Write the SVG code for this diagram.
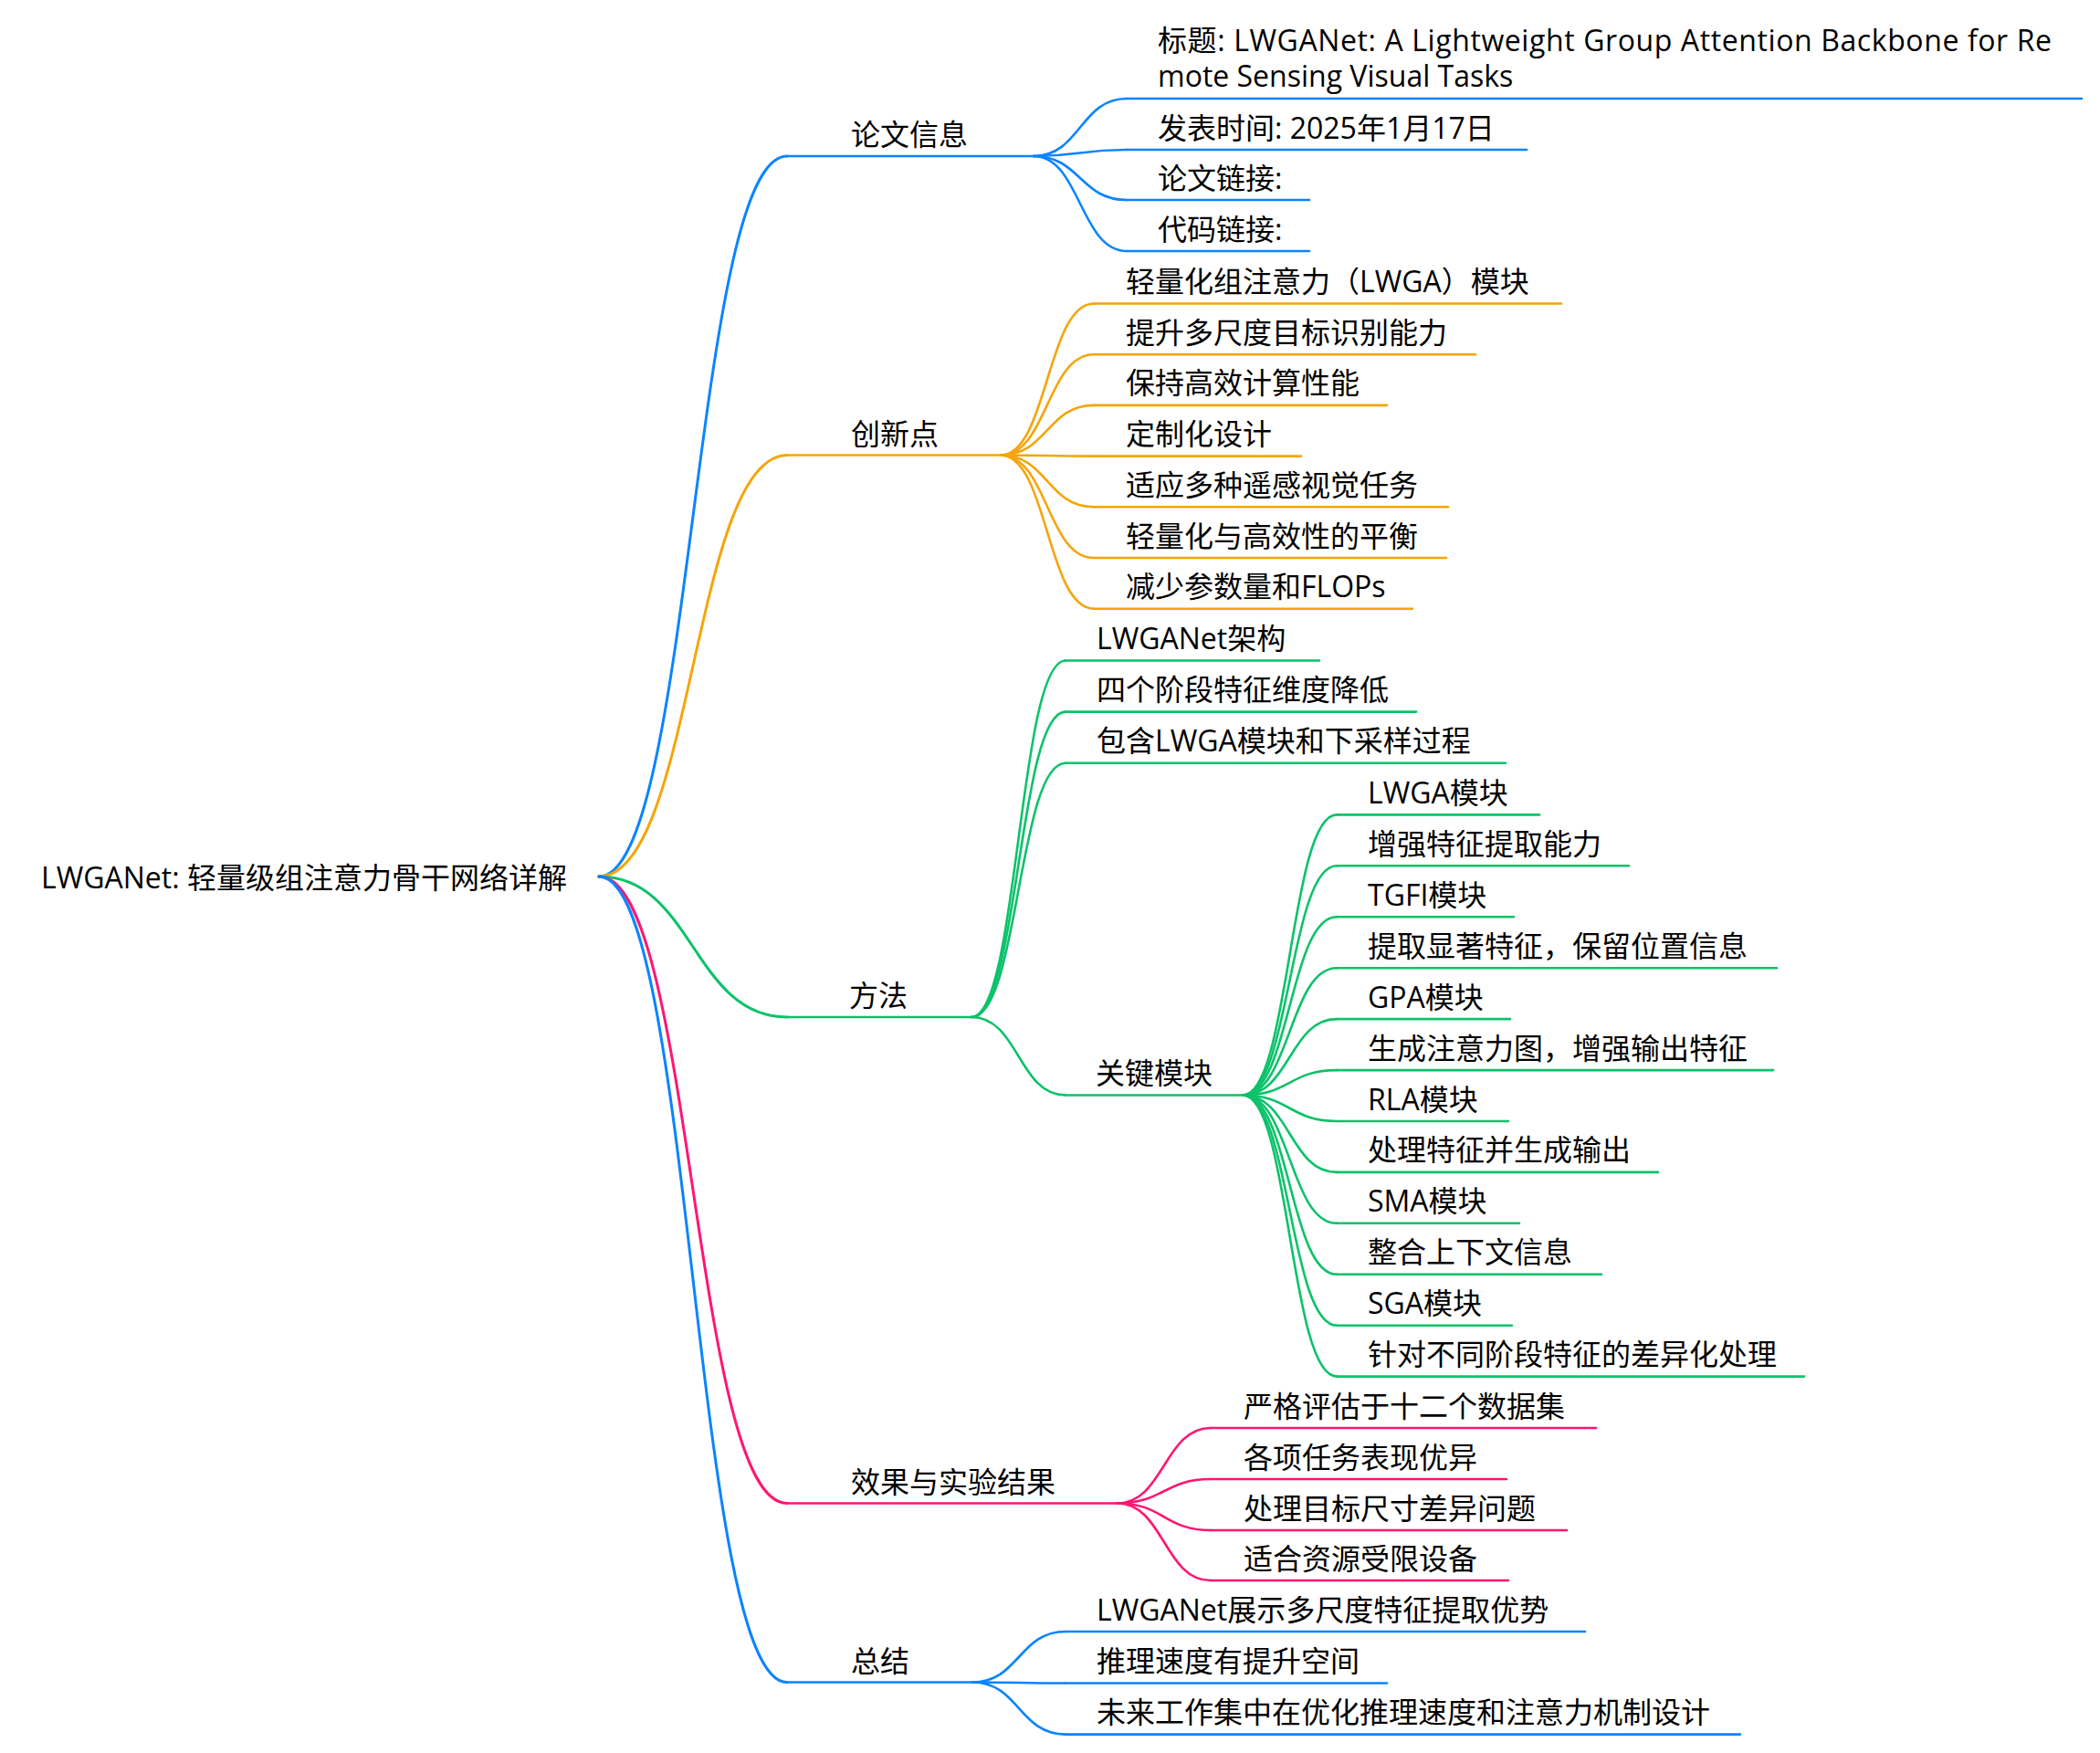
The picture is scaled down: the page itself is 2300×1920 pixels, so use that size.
<svg xmlns="http://www.w3.org/2000/svg" width="2300" height="1920" viewBox="0 0 2300 1920">
<style>
text{font-family:"Open Sans","Noto Sans CJK SC",sans-serif;font-size:32px;fill:#000}
.l{fill:none;stroke-width:2.6;stroke-linecap:round}
.r{stroke-width:3}
.b{stroke:#0a84ff}
.o{stroke:#f5a50a}
.g{stroke:#0cc26a}
.p{stroke:#ff1672}
</style>
<rect width="2300" height="1920" fill="#fff"/>
<g id="connectors">
<path class="l r b" d="M656,960 C759,960 759,171 862,171"/>
<path class="l r o" d="M656,960 C759,960 759,498.5 862,498.5"/>
<path class="l r g" d="M656,960 C759,960 759,1114 862,1114"/>
<path class="l r p" d="M656,960 C759,960 759,1646.5 862,1646.5"/>
<path class="l r b" d="M656,960 C759,960 759,1842.5 862,1842.5"/>
<path class="l b" d="M1132,171 C1183,171 1183,108 1234,108"/>
<path class="l b" d="M1132,171 C1183,171 1183,164 1234,164"/>
<path class="l b" d="M1132,171 C1183,171 1183,219 1234,219"/>
<path class="l b" d="M1132,171 C1183,171 1183,275 1234,275"/>
<path class="l o" d="M1096,498.5 C1147,498.5 1147,332.5 1198,332.5"/>
<path class="l o" d="M1096,498.5 C1147,498.5 1147,388.2 1198,388.2"/>
<path class="l o" d="M1096,498.5 C1147,498.5 1147,443.9 1198,443.9"/>
<path class="l o" d="M1096,498.5 C1147,498.5 1147,499.6 1198,499.6"/>
<path class="l o" d="M1096,498.5 C1147,498.5 1147,555.3 1198,555.3"/>
<path class="l o" d="M1096,498.5 C1147,498.5 1147,611 1198,611"/>
<path class="l o" d="M1096,498.5 C1147,498.5 1147,666.7 1198,666.7"/>
<path class="l g" d="M1064,1114 C1115.5,1114 1115.5,723.5 1167,723.5"/>
<path class="l g" d="M1064,1114 C1115.5,1114 1115.5,779.6 1167,779.6"/>
<path class="l g" d="M1064,1114 C1115.5,1114 1115.5,835.7 1167,835.7"/>
<path class="l g" d="M1064,1114 C1115.5,1114 1115.5,1199.5 1167,1199.5"/>
<path class="l g" d="M1361,1199.5 C1412.5,1199.5 1412.5,892.4 1464,892.4"/>
<path class="l g" d="M1361,1199.5 C1412.5,1199.5 1412.5,948.3 1464,948.3"/>
<path class="l g" d="M1361,1199.5 C1412.5,1199.5 1412.5,1004.3 1464,1004.3"/>
<path class="l g" d="M1361,1199.5 C1412.5,1199.5 1412.5,1060.2 1464,1060.2"/>
<path class="l g" d="M1361,1199.5 C1412.5,1199.5 1412.5,1116.1 1464,1116.1"/>
<path class="l g" d="M1361,1199.5 C1412.5,1199.5 1412.5,1172.1 1464,1172.1"/>
<path class="l g" d="M1361,1199.5 C1412.5,1199.5 1412.5,1228 1464,1228"/>
<path class="l g" d="M1361,1199.5 C1412.5,1199.5 1412.5,1283.9 1464,1283.9"/>
<path class="l g" d="M1361,1199.5 C1412.5,1199.5 1412.5,1339.8 1464,1339.8"/>
<path class="l g" d="M1361,1199.5 C1412.5,1199.5 1412.5,1395.8 1464,1395.8"/>
<path class="l g" d="M1361,1199.5 C1412.5,1199.5 1412.5,1451.7 1464,1451.7"/>
<path class="l g" d="M1361,1199.5 C1412.5,1199.5 1412.5,1507.6 1464,1507.6"/>
<path class="l p" d="M1223.5,1646.5 C1274.8,1646.5 1274.8,1564 1326,1564"/>
<path class="l p" d="M1223.5,1646.5 C1274.8,1646.5 1274.8,1620 1326,1620"/>
<path class="l p" d="M1223.5,1646.5 C1274.8,1646.5 1274.8,1676 1326,1676"/>
<path class="l p" d="M1223.5,1646.5 C1274.8,1646.5 1274.8,1731 1326,1731"/>
<path class="l b" d="M1065,1842.5 C1116,1842.5 1116,1787 1167,1787"/>
<path class="l b" d="M1065,1842.5 C1116,1842.5 1116,1843.5 1167,1843.5"/>
<path class="l b" d="M1065,1842.5 C1116,1842.5 1116,1899.6 1167,1899.6"/>
</g>
<g id="root"><text x="45" y="973">LWGANet: 轻量级组注意力骨干网络详解</text></g>
<g id="n-info"><path class="l b" d="M862,171H1132"/><text x="932" y="159">论文信息</text></g>
<g id="n-title"><path class="l b" d="M1234,108H2280"/><text x="1268" y="55.5" textLength="979" lengthAdjust="spacing">标题: LWGANet: A Lightweight Group Attention Backbone for Re</text><text x="1268" y="94.5">mote Sensing Visual Tasks</text></g>
<g id="n-date"><path class="l b" d="M1234,164H1672"/><text x="1268" y="151.5">发表时间: 2025年1月17日</text></g>
<g id="n-paper"><path class="l b" d="M1234,219H1434"/><text x="1268" y="206.5">论文链接:</text></g>
<g id="n-code"><path class="l b" d="M1234,275H1434"/><text x="1268" y="262.5">代码链接:</text></g>
<g id="n-innov"><path class="l o" d="M862,498.5H1096"/><text x="932" y="486.5">创新点</text></g>
<g id="n-i1"><path class="l o" d="M1198,332.5H1710"/><text x="1233" y="320">轻量化组注意力（LWGA）模块</text></g>
<g id="n-i2"><path class="l o" d="M1198,388.2H1616"/><text x="1233" y="375.7">提升多尺度目标识别能力</text></g>
<g id="n-i3"><path class="l o" d="M1198,443.9H1519"/><text x="1233" y="431.4">保持高效计算性能</text></g>
<g id="n-i4"><path class="l o" d="M1198,499.6H1425"/><text x="1233" y="487.1">定制化设计</text></g>
<g id="n-i5"><path class="l o" d="M1198,555.3H1586"/><text x="1233" y="542.8">适应多种遥感视觉任务</text></g>
<g id="n-i6"><path class="l o" d="M1198,611H1584"/><text x="1233" y="598.5">轻量化与高效性的平衡</text></g>
<g id="n-i7"><path class="l o" d="M1198,666.7H1547"/><text x="1233" y="654.2">减少参数量和FLOPs</text></g>
<g id="n-method"><path class="l g" d="M862,1114H1064"/><text x="930" y="1102">方法</text></g>
<g id="n-m1"><path class="l g" d="M1167,723.5H1445"/><text x="1201" y="711">LWGANet架构</text></g>
<g id="n-m2"><path class="l g" d="M1167,779.6H1551"/><text x="1201" y="767.1">四个阶段特征维度降低</text></g>
<g id="n-m3"><path class="l g" d="M1167,835.7H1649"/><text x="1201" y="823.2">包含LWGA模块和下采样过程</text></g>
<g id="n-key"><path class="l g" d="M1167,1199.5H1361"/><text x="1200" y="1187">关键模块</text></g>
<g id="n-k1"><path class="l g" d="M1464,892.4H1686"/><text x="1498" y="879.9">LWGA模块</text></g>
<g id="n-k2"><path class="l g" d="M1464,948.3H1784"/><text x="1498" y="935.8">增强特征提取能力</text></g>
<g id="n-k3"><path class="l g" d="M1464,1004.3H1658"/><text x="1498" y="991.8">TGFI模块</text></g>
<g id="n-k4"><path class="l g" d="M1464,1060.2H1946"/><text x="1498" y="1047.7">提取显著特征，保留位置信息</text></g>
<g id="n-k5"><path class="l g" d="M1464,1116.1H1654"/><text x="1498" y="1103.6">GPA模块</text></g>
<g id="n-k6"><path class="l g" d="M1464,1172.1H1942"/><text x="1498" y="1159.6">生成注意力图，增强输出特征</text></g>
<g id="n-k7"><path class="l g" d="M1464,1228H1652"/><text x="1498" y="1215.5">RLA模块</text></g>
<g id="n-k8"><path class="l g" d="M1464,1283.9H1816"/><text x="1498" y="1271.4">处理特征并生成输出</text></g>
<g id="n-k9"><path class="l g" d="M1464,1339.8H1664"/><text x="1498" y="1327.3">SMA模块</text></g>
<g id="n-k10"><path class="l g" d="M1464,1395.8H1754"/><text x="1498" y="1383.3">整合上下文信息</text></g>
<g id="n-k11"><path class="l g" d="M1464,1451.7H1656"/><text x="1498" y="1439.2">SGA模块</text></g>
<g id="n-k12"><path class="l g" d="M1464,1507.6H1976"/><text x="1498" y="1495.1">针对不同阶段特征的差异化处理</text></g>
<g id="n-result"><path class="l p" d="M862,1646.5H1223.5"/><text x="932" y="1634.5">效果与实验结果</text></g>
<g id="n-r1"><path class="l p" d="M1326,1564H1748"/><text x="1362" y="1551.5">严格评估于十二个数据集</text></g>
<g id="n-r2"><path class="l p" d="M1326,1620H1650"/><text x="1362" y="1607.5">各项任务表现优异</text></g>
<g id="n-r3"><path class="l p" d="M1326,1676H1716"/><text x="1362" y="1663.5">处理目标尺寸差异问题</text></g>
<g id="n-r4"><path class="l p" d="M1326,1731H1652"/><text x="1362" y="1718.5">适合资源受限设备</text></g>
<g id="n-sum"><path class="l b" d="M862,1842.5H1065"/><text x="932" y="1830.5">总结</text></g>
<g id="n-s1"><path class="l b" d="M1167,1787H1736"/><text x="1201" y="1774.5">LWGANet展示多尺度特征提取优势</text></g>
<g id="n-s2"><path class="l b" d="M1167,1843.5H1519"/><text x="1201" y="1831">推理速度有提升空间</text></g>
<g id="n-s3"><path class="l b" d="M1167,1899.6H1906"/><text x="1201" y="1887.1">未来工作集中在优化推理速度和注意力机制设计</text></g>
</svg>
